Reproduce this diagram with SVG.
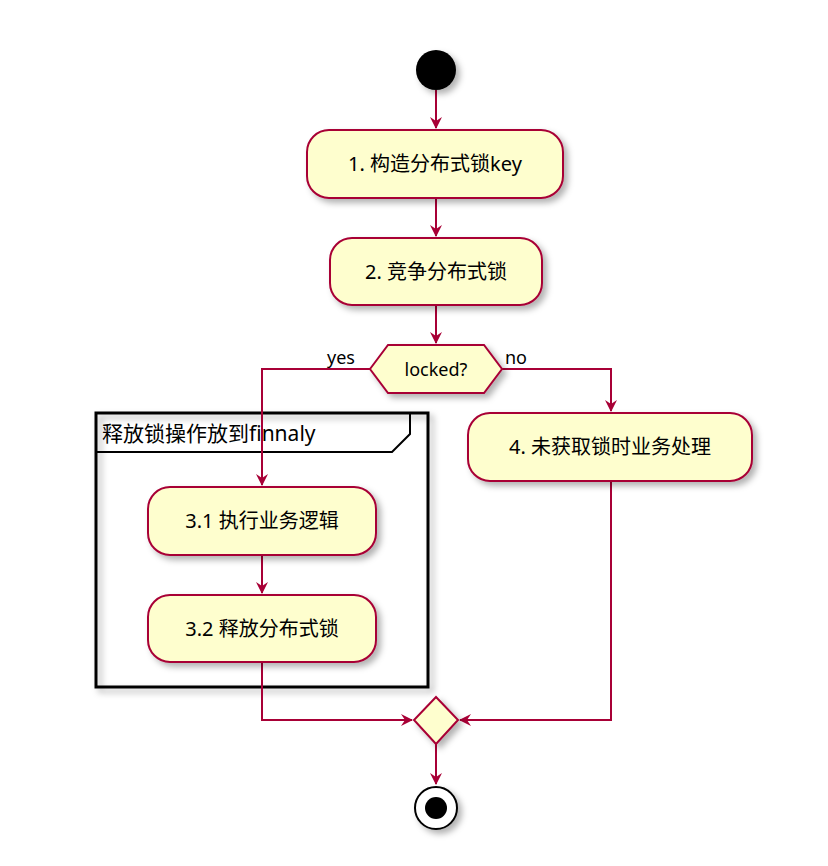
<svg xmlns="http://www.w3.org/2000/svg" width="828" height="866" viewBox="0 0 828 866">
<style>
.n{fill:#FEFECE;stroke:#A80036;stroke-width:2;filter:url(#sh)}
.t{font-family:"Noto Sans","Noto Sans CJK SC",sans-serif;font-size:20px;fill:#000;text-anchor:middle}
.c{fill:none;stroke:#A80036;stroke-width:2}
.l{font-family:"Noto Sans",sans-serif;font-size:18px;fill:#000}
</style>
<defs>
<filter id="sh" x="-20%" y="-20%" width="150%" height="150%"><feDropShadow dx="4" dy="4" stdDeviation="3" flood-color="#000" flood-opacity="0.3"/></filter>
<marker id="a" viewBox="0 0 12 12" refX="11" refY="6" markerWidth="12" markerHeight="12" markerUnits="userSpaceOnUse" orient="auto"><path d="M0,0 L12,6 L0,12 L4,6 Z" fill="#A80036"/></marker>
</defs>
<g id="partition">
<rect x="96" y="413" width="332" height="274" fill="none" stroke="#000" stroke-width="3" filter="url(#sh)"/>
<path d="M96,452 L392,452 L410,434 L410,413" fill="none" stroke="#000" stroke-width="2"/>
<text x="102" y="441" font-family="Noto Sans,Noto Sans CJK SC,sans-serif" font-size="21" fill="#000">释放锁操作放到finnaly</text>
</g>
<g id="connectors">
<path class="c" d="M436,90 V128" marker-end="url(#a)"/>
<path class="c" d="M436,198 V236" marker-end="url(#a)"/>
<path class="c" d="M436,305 V343" marker-end="url(#a)"/>
<path class="c" d="M370,369 H262 V485" marker-end="url(#a)"/>
<path class="c" d="M502,369 H611 V411" marker-end="url(#a)"/>
<path class="c" d="M262,555 V593" marker-end="url(#a)"/>
<path class="c" d="M262,662 V720 H412" marker-end="url(#a)"/>
<path class="c" d="M611,481 V720 H460" marker-end="url(#a)"/>
<path class="c" d="M436,744 V784" marker-end="url(#a)"/>
<text class="l" x="327" y="364">yes</text>
<text class="l" x="505" y="364">no</text>
</g>
<g id="start"><circle cx="436" cy="70" r="20" fill="#000" filter="url(#sh)"/></g>
<g id="n1"><rect class="n" x="307" y="130" width="256" height="68" rx="22"/><text class="t" x="435" y="171">1. 构造分布式锁key</text></g>
<g id="n2"><rect class="n" x="330" y="238" width="212" height="67" rx="22"/><text class="t" x="436" y="279">2. 竞争分布式锁</text></g>
<g id="d1"><path class="n" d="M370,369 L388,345 H484 L502,369 L484,393 H388 Z"/><text class="t" x="436" y="376" style="font-size:18px">locked?</text></g>
<g id="n31"><rect class="n" x="148" y="487" width="228" height="68" rx="22"/><text class="t" x="262" y="528">3.1 执行业务逻辑</text></g>
<g id="n32"><rect class="n" x="148" y="595" width="228" height="67" rx="22"/><text class="t" x="262" y="636">3.2 释放分布式锁</text></g>
<g id="n4"><rect class="n" x="468" y="413" width="284" height="68" rx="22"/><text class="t" x="610" y="454">4. 未获取锁时业务处理</text></g>
<g id="merge"><path class="n" d="M436,697 L458,720 L436,744 L414,720 Z"/></g>
<g id="end"><circle cx="436" cy="808" r="21" fill="#fff" stroke="#000" stroke-width="2" filter="url(#sh)"/><circle cx="436" cy="808" r="11" fill="#000"/></g>
</svg>
